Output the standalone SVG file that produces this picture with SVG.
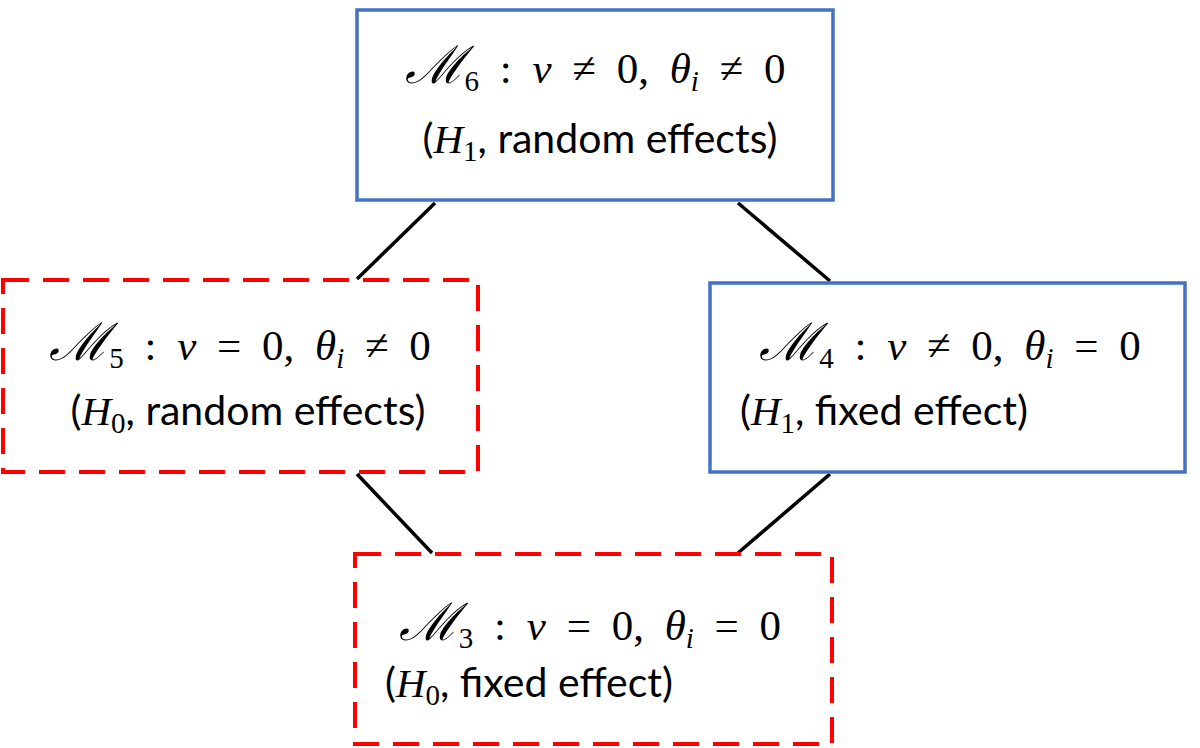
<svg xmlns="http://www.w3.org/2000/svg" width="1200" height="748" viewBox="0 0 1200 748">
<style>
.blue{fill:#fff;stroke:#4472C4;stroke-width:3.5}
.red{fill:#fff;stroke:#FF0000;stroke-width:4;stroke-dasharray:26 14}
.math{font-family:"Liberation Serif","DejaVu Serif",serif;font-size:43px;fill:#000;word-spacing:10px}
.it{font-style:italic}
.cal{font-style:italic;font-size:52px}
.sub{font-size:29px}
.lbl{font-family:Lato,"Open Sans","Liberation Sans",sans-serif;font-size:41px;fill:#000}
.con line{stroke:#000;stroke-width:3.5}
</style>
<g class="con" id="connectors">
<line x1="435" y1="203" x2="357" y2="279"/>
<line x1="738" y1="203" x2="830" y2="281"/>
<line x1="357" y1="474" x2="432" y2="553"/>
<line x1="830" y1="474" x2="738" y2="553"/>
</g>
<g id="m6">
<rect class="blue" x="357" y="10" width="476" height="190"/>
<text class="math" x="595" y="83" text-anchor="middle"><tspan class="cal">ℳ</tspan><tspan class="sub" dy="8">6</tspan><tspan dy="-8"> : </tspan><tspan class="it">ν</tspan> ≠ 0, <tspan class="it">θ</tspan><tspan class="sub it" dy="8">i</tspan><tspan dy="-8"> ≠ 0</tspan></text>
<text class="lbl" x="600" y="153" text-anchor="middle">(<tspan class="math it" style="font-size:41px">H</tspan><tspan class="math sub" dy="8">1</tspan><tspan dy="-8">, random effects)</tspan></text>
</g>
<g id="m5">
<rect class="red" x="3" y="280" width="475" height="192"/>
<text class="math" x="240" y="360" text-anchor="middle"><tspan class="cal">ℳ</tspan><tspan class="sub" dy="8">5</tspan><tspan dy="-8"> : </tspan><tspan class="it">ν</tspan> = 0, <tspan class="it">θ</tspan><tspan class="sub it" dy="8">i</tspan><tspan dy="-8"> ≠ 0</tspan></text>
<text class="lbl" x="248" y="425" text-anchor="middle">(<tspan class="math it" style="font-size:41px">H</tspan><tspan class="math sub" dy="8">0</tspan><tspan dy="-8">, random effects)</tspan></text>
</g>
<g id="m4">
<rect class="blue" x="710" y="283" width="475" height="189"/>
<text class="math" x="950" y="360" text-anchor="middle"><tspan class="cal">ℳ</tspan><tspan class="sub" dy="8">4</tspan><tspan dy="-8"> : </tspan><tspan class="it">ν</tspan> ≠ 0, <tspan class="it">θ</tspan><tspan class="sub it" dy="8">i</tspan><tspan dy="-8"> = 0</tspan></text>
<text class="lbl" x="740" y="425">(<tspan class="math it" style="font-size:41px">H</tspan><tspan class="math sub" dy="8">1</tspan><tspan dy="-8">, fixed effect)</tspan></text>
</g>
<g id="m3">
<rect class="red" x="355" y="554" width="477" height="190"/>
<text class="math" x="590" y="640" text-anchor="middle"><tspan class="cal">ℳ</tspan><tspan class="sub" dy="8">3</tspan><tspan dy="-8"> : </tspan><tspan class="it">ν</tspan> = 0, <tspan class="it">θ</tspan><tspan class="sub it" dy="8">i</tspan><tspan dy="-8"> = 0</tspan></text>
<text class="lbl" x="385" y="697">(<tspan class="math it" style="font-size:41px">H</tspan><tspan class="math sub" dy="8">0</tspan><tspan dy="-8">, fixed effect)</tspan></text>
</g>
</svg>
